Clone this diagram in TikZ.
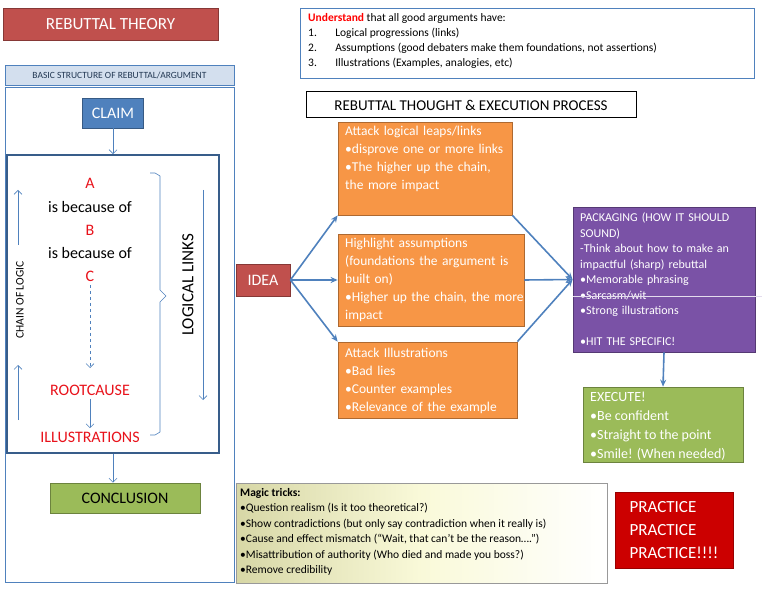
\documentclass[tikz,border=0pt]{standalone}
\usepackage{fontspec}
\setmainfont{Carlito}
\usetikzlibrary{arrows.meta,decorations.pathreplacing}
\definecolor{myred}{HTML}{C0504D}
\definecolor{myblue}{HTML}{4F81BD}
\definecolor{myorange}{HTML}{F79646}
\definecolor{mygreen}{HTML}{9BBB59}
\definecolor{mypurple}{HTML}{7A52A6}
\definecolor{dkblue}{HTML}{385D8A}
\definecolor{txtred}{HTML}{E8121B}
\begin{document}
\begin{tikzpicture}[x=1pt,y=-1pt,
  box/.style={draw=#1!70!black,fill=#1,line width=0.8pt},
  wtxt/.style={text=white,align=left,anchor=north west,inner sep=0pt,font=\fontsize{13.5}{18}\selectfont},
  arr/.style={-{Stealth[length=7pt,width=6pt]},myblue,line width=1.6pt},
  sarr/.style={-{Straight Barb[length=4pt]},myblue,line width=0.6pt},
  rtx/.style={text=txtred,font=\fontsize{16}{18}\selectfont}]
\useasboundingbox (0,0) rectangle (768,593);
% title
\node[box=myred,minimum width=215,minimum height=32,inner sep=0pt,text=white,font=\fontsize{17}{19}\selectfont] (title) at (110.5,24) {REBUTTAL THEORY};
% understand box
\draw[myblue,line width=0.8pt,fill=white] (300,8) rectangle (754,78);
\node[anchor=north west,inner sep=0pt,align=left,font=\fontsize{11.5}{15}\selectfont] (und) at (308,13)
 {{\color{red}\bfseries Understand} that all good arguments have:\\
 1.\hspace{1.6em}Logical progressions (links)\\
 2.\hspace{1.6em}Assumptions (good debaters make them foundations, not assertions)\\
 3.\hspace{1.6em}Illustrations (Examples, analogies, etc)};
% basic structure
\node[draw=myblue,fill=myblue!25,minimum width=229,minimum height=20,inner sep=0pt,text=dkblue!60!black,font=\fontsize{9.5}{10}\selectfont] (basic) at (119.5,75) {BASIC STRUCTURE OF REBUTTAL/ARGUMENT};
\draw[myblue,line width=1pt] (5,88) rectangle (234,582);
\node[box=myblue,minimum width=61,minimum height=30,inner sep=0pt,text=white,font=\fontsize{16}{18}\selectfont] (claim) at (113,113) {CLAIM};
\node[draw=dkblue,line width=1.8pt,minimum width=212,minimum height=298,inner sep=0pt] (inner) at (113,304) {};
\draw[sarr] (claim) -- (inner.north-|claim);
\node[box=mygreen,minimum width=150,minimum height=30,inner sep=0pt,font=\fontsize{16}{18}\selectfont] (concl) at (125,498) {CONCLUSION};
\draw[sarr] (inner.south-|claim) -- (concl.north-|claim);
\node[rtx] (A) at (90,183) {A};
\node[font=\fontsize{16}{18}\selectfont] (b1) at (90,207) {is because of};
\node[rtx] (B) at (90,230) {B};
\node[font=\fontsize{16}{18}\selectfont] (b2) at (90,253) {is because of};
\node[rtx] (C) at (90,276) {C};
\node[rtx] (root) at (90,390) {ROOTCAUSE};
\node[rtx] (ill) at (90,437) {ILLUSTRATIONS};
\draw[sarr,dashed] (C) -- (90,368);
\draw[sarr] (root) -- (ill);
\draw[myblue,line width=0.6pt] (150,173) -- (155,173) -- (160,176) -- (160,290) -- (166,296) -- (160,302) -- (160,432) -- (155,435) -- (150,435);
\node[rotate=90,font=\fontsize{11.5}{12}\selectfont] (chain) at (20,300) {CHAIN OF LOGIC};
\coordinate (c1) at (18,245); \coordinate (c1e) at (18,190);
\coordinate (c2) at (18,420); \coordinate (c2e) at (18,365);
\draw[sarr] (c1) -- (c1e);
\draw[sarr] (c2) -- (c2e);
\node[rotate=90,font=\fontsize{17}{19}\selectfont] (ll) at (188,285) {LOGICAL LINKS};
\coordinate (l1) at (203,190); \coordinate (l2) at (203,400);
\draw[sarr] (l1) -- (l2);
% process
\node[draw=black,line width=1pt,minimum width=330,minimum height=26,inner sep=0pt,font=\fontsize{15}{16}\selectfont] (proc) at (471,105) {REBUTTAL THOUGHT \& EXECUTION PROCESS};
\node[box=myred,minimum width=54,minimum height=32,inner sep=0pt,text=white,font=\fontsize{16}{18}\selectfont] (idea) at (263,280) {IDEA};
\node[box=myorange,minimum width=174,minimum height=93,inner sep=0pt] (o1) at (425,168.5) {};
\node[wtxt,text width=165] at (345,126) {\raggedright Attack logical leaps/links\\\textbullet disprove one or more links\\\textbullet The higher up the chain, the more impact};
\node[box=myorange,minimum width=186,minimum height=92,inner sep=0pt] (o2) at (431,280) {};
\node[wtxt,text width=180] at (345,238) {\raggedright Highlight assumptions (foundations the argument is built on)\\\textbullet Higher up the chain, the more impact};
\node[box=myorange,minimum width=179,minimum height=76,inner sep=0pt] (o3) at (427.5,380) {};
\node[wtxt,text width=170] at (345,348) {\raggedright Attack Illustrations\\\textbullet Bad lies\\\textbullet Counter examples\\\textbullet Relevance of the example};
\node[box=mypurple,minimum width=182,minimum height=145,inner sep=0pt] (pk) at (664,279.5) {};
\node[wtxt,text width=172,font=\fontsize{12}{15.5}\selectfont] at (580,213) {\raggedright PACKAGING (HOW IT SHOULD SOUND)\\-Think about how to make an impactful (sharp) rebuttal\\\textbullet Memorable phrasing\\\textbullet Sarcasm/wit\\\textbullet Strong illustrations\\[15.5pt]\textbullet HIT THE SPECIFIC!};
\draw[white!80!mypurple,line width=0.5pt] (573,296) -- (762,296);
\node[box=mygreen,minimum width=160,minimum height=75,inner sep=0pt] (ex) at (663,424.5) {};
\node[wtxt,font=\fontsize{14}{19}\selectfont] at (590,392) {EXECUTE!\\\textbullet Be confident\\\textbullet Straight to the point\\\textbullet Smile! (When needed)};
\draw[arr] (idea.east) -- (o1.south west);
\draw[arr] (idea.east) -- (o2.west);
\draw[arr] (idea.east) -- (o3.north west);
\draw[arr] (o1.south east) -- (pk.west);
\draw[arr] (o2.east) -- (pk.west);
\draw[arr] (o3.north east) -- (pk.west);
\draw[arr] (pk.south) -- (ex.north);
% magic
\shade[left color=black!45!yellow!35!white, right color=white, middle color=black!15!yellow!15!white] (236,483) rectangle (607,583);
\draw[black!40,line width=0.5pt] (236,483) rectangle (607,583);
\node[anchor=north west,inner sep=0pt,align=left,font=\fontsize{11.5}{15.5}\selectfont] (magic) at (240,488)
 {\textbf{Magic tricks:}\\
 \textbullet Question realism (Is it too theoretical?)\\
 \textbullet Show contradictions (but only say contradiction when it really is)\\
 \textbullet Cause and effect mismatch (“Wait, that can’t be the reason….”)\\
 \textbullet Misattribution of authority (Who died and made you boss?)\\
 \textbullet Remove credibility};
\node[fill=red!80!black,draw=red!60!black,minimum width=118,minimum height=76,inner sep=0pt,text=white,align=left,font=\fontsize{17}{23}\selectfont] (pr) at (674,530) {PRACTICE\\PRACTICE\\PRACTICE!!!!};
\end{tikzpicture}
\end{document}
